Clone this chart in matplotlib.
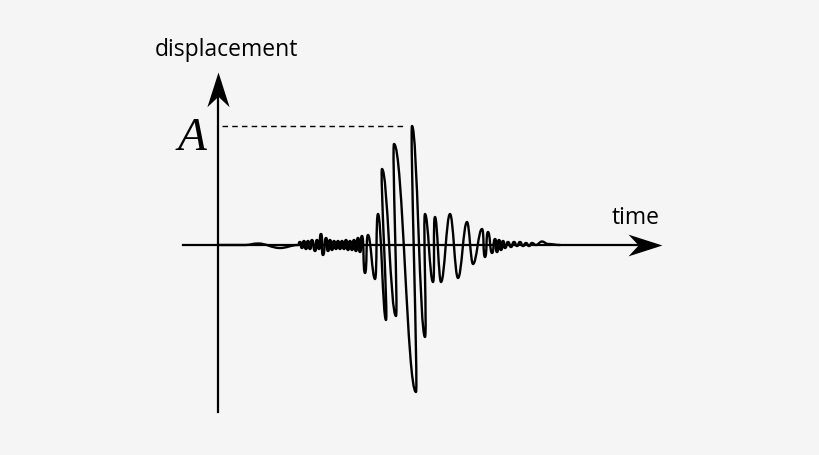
import numpy as np
import matplotlib
matplotlib.use("Agg")
import matplotlib.pyplot as plt
from matplotlib.path import Path
from matplotlib.patches import PathPatch

# seismogram: turning points, in drawing order
# time [s], displacement [mm]
time = [
    0.0, 1.35, 2.0, 3.1, 4.0, 4.1, 4.2, 4.3, 4.4, 4.5,
    4.6, 4.7, 4.85, 4.95, 5.05, 5.15, 5.25, 5.4, 5.5, 5.6,
    5.7, 5.8, 5.9, 6.0, 6.1, 6.2, 6.3, 6.4, 6.5, 6.6,
    6.7, 6.8, 6.9, 7.0, 7.1, 7.2, 7.35, 7.5, 7.85, 8.0,
    8.4, 8.2, 8.9, 8.8, 9.9, 9.7, 10.35, 10.35, 10.75, 10.85,
    11.15, 11.6, 12.0, 12.45, 12.75, 13.2, 13.35, 13.5, 13.7, 13.85,
    13.95, 14.05, 14.15, 14.25, 14.35, 14.5, 14.65, 14.8, 14.95, 15.1,
    15.25, 15.4, 15.55, 15.7, 15.9, 16.2, 16.5, 17.1,
]
disp = [
    0.0, 0.0, 0.15, -0.3, 0.0, 0.3, -0.3, 0.4, -0.4, 0.4,
    -0.4, 0.5, -0.6, 0.5, -0.4, 1.1, -1.0, 0.7, -0.6, 0.5,
    -0.5, 0.4, -0.4, 0.4, -0.4, 0.4, -0.4, 0.5, -0.5, 0.4,
    -0.5, 0.5, -0.6, 0.7, -0.7, 0.9, -2.8, 1.0, -3.4, 3.1,
    -7.5, 7.6, -7.1, 10.1, -14.7, 11.9, -9.2, 3.1, -3.7, 2.8,
    -3.7, 3.1, -3.3, 2.3, -1.9, 1.6, -1.2, 1.3, -0.8, 0.6,
    -0.7, 0.5, -0.5, 0.4, -0.3, 0.3, -0.2, 0.3, -0.1, 0.3,
    -0.1, 0.2, -0.1, 0.2, 0.0, 0.35, 0.1, 0.0,
]

bg = "#f5f5f5"
fig = plt.figure(figsize=(8.2, 4.56), dpi=100, facecolor=bg)
ax = fig.add_axes([0, 0, 1, 1])
ax.set_facecolor(bg)
ax.set_xlim(-10.9, 30.1)
ax.set_ylim(-21.0, 24.6)
ax.axis("off")

# smooth curve through the turning points (horizontal tangent at each one)
t = np.array(time)
d = np.array(disp)
verts = [(t[0], d[0])]
codes = [Path.MOVETO]
for i in range(len(t) - 1):
    r = max(0.4 * abs(t[i + 1] - t[i]), 0.11)
    verts += [(t[i] + r, d[i]), (t[i + 1] - r, d[i + 1]), (t[i + 1], d[i + 1])]
    codes += [Path.CURVE4] * 3
ax.add_patch(PathPatch(Path(verts, codes), fill=False, lw=1.7, ec="black",
                       capstyle="round", joinstyle="round", zorder=3))

# axes with stealth arrow heads
head_x = Path([(0, 0), (-1, 0.32), (-0.7, 0), (-1, -0.32), (0, 0)],
              [Path.MOVETO] + [Path.LINETO] * 3 + [Path.CLOSEPOLY])
head_y = Path([(0, 0), (0.32, -1), (0, -0.7), (-0.32, -1), (0, 0)],
              [Path.MOVETO] + [Path.LINETO] * 3 + [Path.CLOSEPOLY])
x_end = 22.2
y_end = 17.3
ax.plot([-1.75, x_end - 0.5], [0, 0], color="black", lw=1.6, zorder=2)
ax.plot([0, 0], [-16.7, y_end - 1.0], color="black", lw=1.6, zorder=2)
ax.plot([x_end], [0], marker=head_x, markersize=49, color="black",
        markeredgewidth=0, zorder=4)
ax.plot([0], [y_end], marker=head_y, markersize=50, color="black",
        markeredgewidth=0, zorder=4)

# amplitude marker
A = d.max()
t_peak = t[d.argmax()]
ax.plot([0.2, t_peak - 0.35], [A, A], color="black", lw=1.0,
        linestyle=(0, (4, 3)), zorder=2)
ax.text(-1.3, 9.6, "A", family="Liberation Serif", style="italic",
        fontsize=34, ha="center", va="baseline")

ax.text(-3.15, 19.6, "displacement", family="Open Sans", fontsize=16.5,
        ha="left", va="center")
ax.text(19.7, 2.8, "time", family="Open Sans", fontsize=16.5,
        ha="left", va="center")

fig.savefig("out.png", dpi=100, facecolor=bg)
